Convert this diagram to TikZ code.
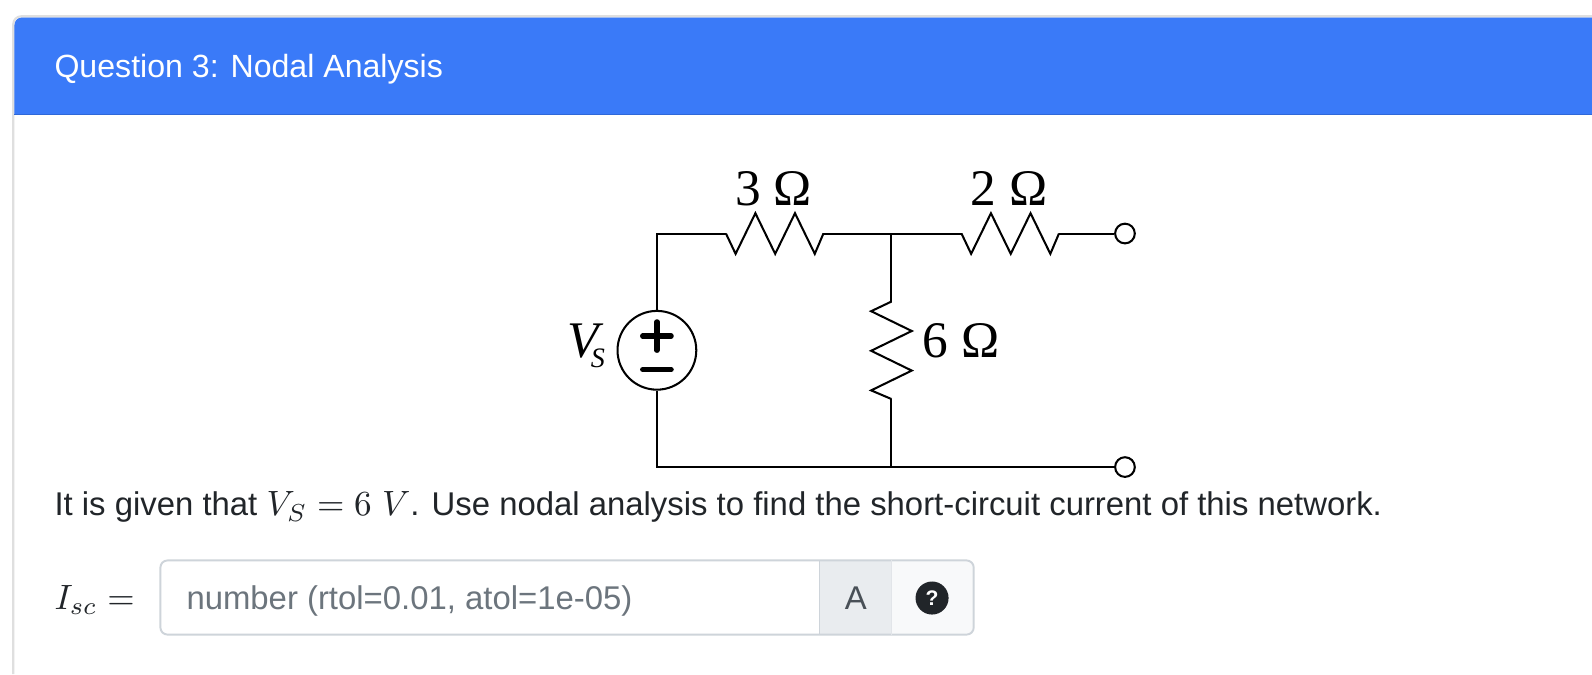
\documentclass[tikz,border=0pt]{standalone}
\usepackage[no-math]{fontspec}
\usepackage{amsmath}
\setmainfont{Liberation Sans}
\newfontfamily\circuitfont{Liberation Serif}
\usetikzlibrary{positioning,calc}
\definecolor{headblue}{HTML}{3A7AF8}
\definecolor{headedge}{HTML}{2F68D8}
\definecolor{cardedge}{HTML}{DFDFDF}
\definecolor{boxedge}{HTML}{CED4DA}
\definecolor{unitfill}{HTML}{E9ECEF}
\definecolor{helpfill}{HTML}{F8F9FA}
\definecolor{hintgray}{HTML}{6C757D}
\definecolor{unitgray}{HTML}{495057}
\definecolor{helpdark}{HTML}{212529}
\newcommand{\mathsize}{\fontsize{10.4}{11}\selectfont}
\tikzset{
  wire/.style={line width=0.58pt,black,line join=miter},
  terminal/.style={circle,draw,line width=0.58pt,fill=white,minimum size=5.6pt,inner sep=0pt},
  source/.style={circle,draw,line width=0.58pt,fill=white,minimum size=22.4pt,inner sep=0pt},
  rlabel/.style={font=\circuitfont\fontsize{14.6}{16}\selectfont,inner sep=0pt,anchor=base},
  pagetext/.style={font=\fontsize{9.35}{11}\selectfont,inner sep=0pt,anchor=base west,text=helpdark},
}
\begin{document}
\begin{tikzpicture}[x=0.010153cm,y=-0.010153cm]
\useasboundingbox (0,0) rectangle (1568,664);
% Card and header
\fill[white] (0,0) rectangle (1568,664);
\fill[headblue] (14,113) -- (14,25) arc[start angle=180,end angle=270,radius=8] -- (1568,17) -- (1568,113) -- cycle;
\draw[cardedge,line width=0.6pt] (13,664) -- (13,24) arc[start angle=180,end angle=270,radius=8] -- (1568,16);
\draw[headedge,line width=0.4pt] (14,113) -- (1568,113);
\node[pagetext,text=white,font=\fontsize{9.13}{11}\selectfont] (title) at (53,76) {Question 3: Nodal Analysis};

% Circuit corners and resistor ends
\coordinate (tl) at (647,230);
\coordinate (bl) at (647,460);
\coordinate (top) at (878,230);
\coordinate (bot) at (878,460);
\coordinate (raa) at (715,230);
\coordinate (rab) at (811,230);
\coordinate (rba) at (947,230);
\coordinate (rbb) at (1043,230);
\coordinate (rca) at (878,297);
\coordinate (rcb) at (878,393);
\node[source] (vs) at (647,345) {};
\node[terminal] (ta) at (1108,230) {};
\node[terminal] (tb) at (1108,460) {};

% Wires
\draw[wire] (vs) -- (tl) -- (raa);
\draw[wire] (rab) -- (top) -- (rba);
\draw[wire] (rbb) -- (ta);
\draw[wire] (top) -- (rca);
\draw[wire] (rcb) -- (bot);
\draw[wire] (vs) -- (bl) -- (tb);

% Resistors
\draw[wire] (raa) -- ++(9.5,20) -- ++(19.5,-40) -- ++(19.5,40) -- ++(19.5,-40) -- ++(19.5,40) -- (rab);
\draw[wire] (rba) -- ++(9.5,20) -- ++(19.5,-40) -- ++(19.5,40) -- ++(19.5,-40) -- ++(19.5,40) -- (rbb);
\draw[wire] (rca) -- ++(-20,9.5) -- ++(40,19.5) -- ++(-40,19.5) -- ++(40,19.5) -- ++(-40,19.5) -- (rcb);

% Source polarity
\draw[line width=1.5pt,line cap=round] (633,331) -- (661,331) (647,317) -- (647,345);
\draw[line width=1.5pt,line cap=round] (633,364) -- (661,364);

% Circuit labels
\node[rlabel] (ra) at (762,202) {3 Ω};
\node[rlabel] (rb) at (994,202) {2 Ω};
\node[rlabel,anchor=base west] (rc) at (908,352) {6 Ω};
\node[rlabel,anchor=base west] (vl) at (558,352) {\itshape V\kern-2.2pt\raisebox{-3pt}{\fontsize{8}{9}\selectfont S}};

% Question text
\node[pagetext] (given) at (53,508) {It is given that {\mathsize$V_S = 6\ V$}. Use nodal analysis to find the short-circuit current of this network.};
\node[pagetext] (isc) at (53,600) {\mathsize$I_{sc} =$};

% Answer box
\fill[unitfill] (807,553) rectangle (878,624);
\fill[helpfill] (878,553) -- (952,553) arc[start angle=270,end angle=360,radius=6] -- (958,618) arc[start angle=0,end angle=90,radius=6] -- (878,624) -- cycle;
\draw[boxedge,line width=0.55pt,rounded corners=2pt] (158,552) rectangle (959,625);
\draw[boxedge,line width=0.4pt] (807,552) -- (807,625);
\draw[boxedge!60,line width=0.4pt] (878,552) -- (878,625);
\node[pagetext,text=hintgray] (hint) at (183,600) {number (rtol=0.01, atol=1e-05)};
\node[pagetext,text=unitgray,anchor=base] (unit) at (843,600) {A};
\node[circle,fill=helpdark,minimum size=9.4pt,inner sep=0pt,text=white,font=\fontsize{6}{7}\selectfont\bfseries] (help) at (918,589) {?};
\end{tikzpicture}
\end{document}
